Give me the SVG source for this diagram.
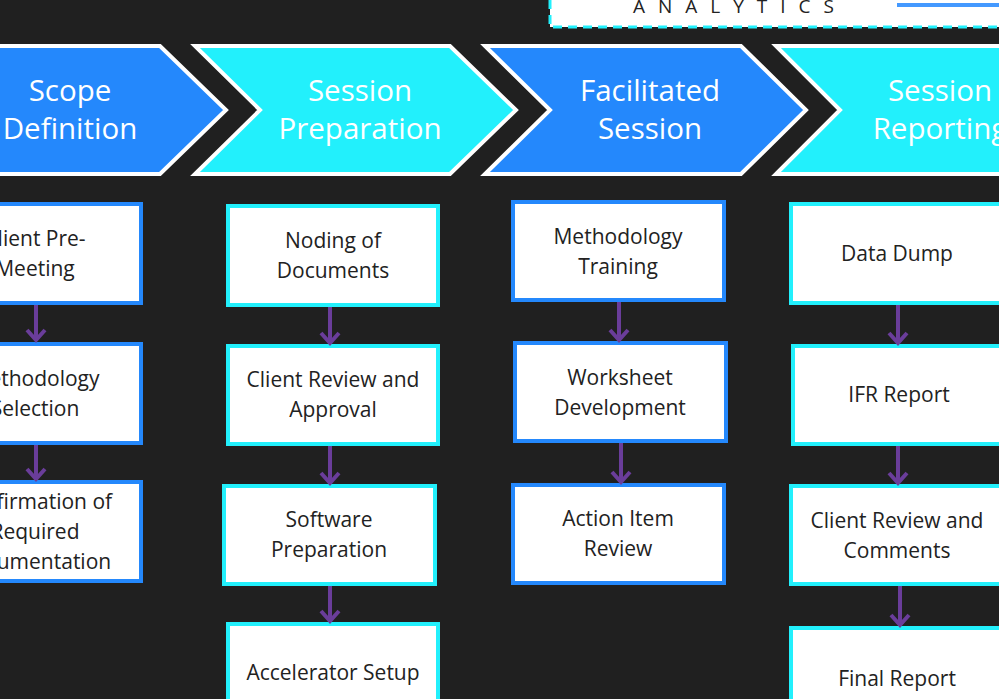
<svg xmlns="http://www.w3.org/2000/svg" width="999" height="699" viewBox="0 0 999 699">
<style>
.bg{fill:#202020}
.chB{fill:#2488fc;stroke:#fff;stroke-width:4}
.chC{fill:#22f0fc;stroke:#fff;stroke-width:4}
.ht{font-family:"Open Sans",sans-serif;font-size:29.5px;fill:#fff;text-anchor:middle}
.bB{fill:#fff;stroke:#2488fc;stroke-width:4}
.bC{fill:#fff;stroke:#22f0fc;stroke-width:4}
.t{font-family:"Open Sans",sans-serif;font-size:21px;fill:#222;text-anchor:middle}
.ar{stroke:#6a3d9a;stroke-width:4;fill:none}
</style>
<defs><path id="ah" d="M-9 -10 L0 0 L9 -10" stroke="#6a3d9a" stroke-width="4" fill="none"/></defs>
<rect class="bg" width="999" height="699"/>
<g id="header">
<rect x="550" y="-10" width="460" height="37" fill="#fff" stroke="#22f0fc" stroke-width="3" stroke-dasharray="9,6"/>
<text x="740" y="13" font-family="Open Sans,sans-serif" font-size="19" fill="#222" text-anchor="middle" letter-spacing="13">ANALYTICS</text>
<line x1="897" y1="5" x2="999" y2="5" stroke="#4499ff" stroke-width="4"/>
</g>
<g id="phase1"><polygon class="chB" points="-20,46 160,46 226,110 160,174 -20,174"/><text class="ht" x="70" y="101">Scope</text><text class="ht" x="70" y="139">Definition</text></g>
<g id="phase2"><polygon class="chC" points="195,46 450,46 516,110 450,174 195,174 260,110"/><text class="ht" x="360" y="101">Session</text><text class="ht" x="360" y="139">Preparation</text></g>
<g id="phase3"><polygon class="chB" points="485,46 741,46 806,110 741,174 485,174 550,110"/><text class="ht" x="650" y="101">Facilitated</text><text class="ht" x="650" y="139">Session</text></g>
<g id="phase4"><polygon class="chC" points="776,46 1020,46 1020,174 776,174 840,110"/><text class="ht" x="940" y="101">Session</text><text class="ht" x="940" y="139">Reporting</text></g>

<g id="c1b1"><rect class="bB" x="-70" y="204" width="211" height="99"/><text class="t" x="35" y="246">Client Pre-</text><text class="t" x="35" y="276">Meeting</text></g>
<g id="c1b2"><rect class="bB" x="-70" y="344" width="211" height="99"/><text class="t" x="35" y="386">Methodology</text><text class="t" x="35" y="416">Selection</text></g>
<g id="c1b3"><rect class="bB" x="-70" y="482" width="211" height="99"/><text class="t" x="35" y="509">Confirmation of</text><text class="t" x="35" y="539">Required</text><text class="t" x="35" y="569">Documentation</text></g>

<g id="c2b1"><rect class="bC" x="228" y="206" width="210" height="99"/><text class="t" x="333" y="248">Noding of</text><text class="t" x="333" y="278">Documents</text></g>
<g id="c2b2"><rect class="bC" x="228" y="346" width="210" height="98"/><text class="t" x="333" y="387">Client Review and</text><text class="t" x="333" y="417">Approval</text></g>
<g id="c2b3"><rect class="bC" x="224" y="486" width="211" height="98"/><text class="t" x="329" y="527">Software</text><text class="t" x="329" y="557">Preparation</text></g>
<g id="c2b4"><rect class="bC" x="228" y="624" width="210" height="90"/><text class="t" x="333" y="680">Accelerator Setup</text></g>

<g id="c3b1"><rect class="bB" x="513" y="202" width="211" height="98"/><text class="t" x="618" y="244">Methodology</text><text class="t" x="618" y="274">Training</text></g>
<g id="c3b2"><rect class="bB" x="515" y="343" width="211" height="98"/><text class="t" x="620" y="385">Worksheet</text><text class="t" x="620" y="415">Development</text></g>
<g id="c3b3"><rect class="bB" x="513" y="485" width="211" height="98"/><text class="t" x="618" y="526">Action Item</text><text class="t" x="618" y="556">Review</text></g>

<g id="c4b1"><rect class="bC" x="791" y="204" width="230" height="99"/><text class="t" x="897" y="261">Data Dump</text></g>
<g id="c4b2"><rect class="bC" x="793" y="346" width="230" height="98"/><text class="t" x="899" y="402">IFR Report</text></g>
<g id="c4b3"><rect class="bC" x="791" y="486" width="230" height="98"/><text class="t" x="897" y="528">Client Review and</text><text class="t" x="897" y="558">Comments</text></g>
<g id="c4b4"><rect class="bC" x="791" y="628" width="230" height="90"/><text class="t" x="897" y="686">Final Report</text></g>

<g id="connectors">
<line class="ar" x1="36" y1="305" x2="36" y2="339"/><use href="#ah" x="36" y="340"/>
<line class="ar" x1="36" y1="445" x2="36" y2="478"/><use href="#ah" x="36" y="479"/>
<line class="ar" x1="330" y1="307" x2="330" y2="342"/><use href="#ah" x="330" y="343"/>
<line class="ar" x1="330" y1="446" x2="330" y2="482"/><use href="#ah" x="330" y="483"/>
<line class="ar" x1="330" y1="586" x2="330" y2="620"/><use href="#ah" x="330" y="621"/>
<line class="ar" x1="619" y1="302" x2="619" y2="339"/><use href="#ah" x="619" y="340"/>
<line class="ar" x1="621" y1="443" x2="621" y2="481"/><use href="#ah" x="621" y="482"/>
<line class="ar" x1="898" y1="305" x2="898" y2="342"/><use href="#ah" x="898" y="343"/>
<line class="ar" x1="898" y1="446" x2="898" y2="482"/><use href="#ah" x="898" y="483"/>
<line class="ar" x1="900" y1="586" x2="900" y2="624"/><use href="#ah" x="900" y="625"/>
</g>
</svg>
